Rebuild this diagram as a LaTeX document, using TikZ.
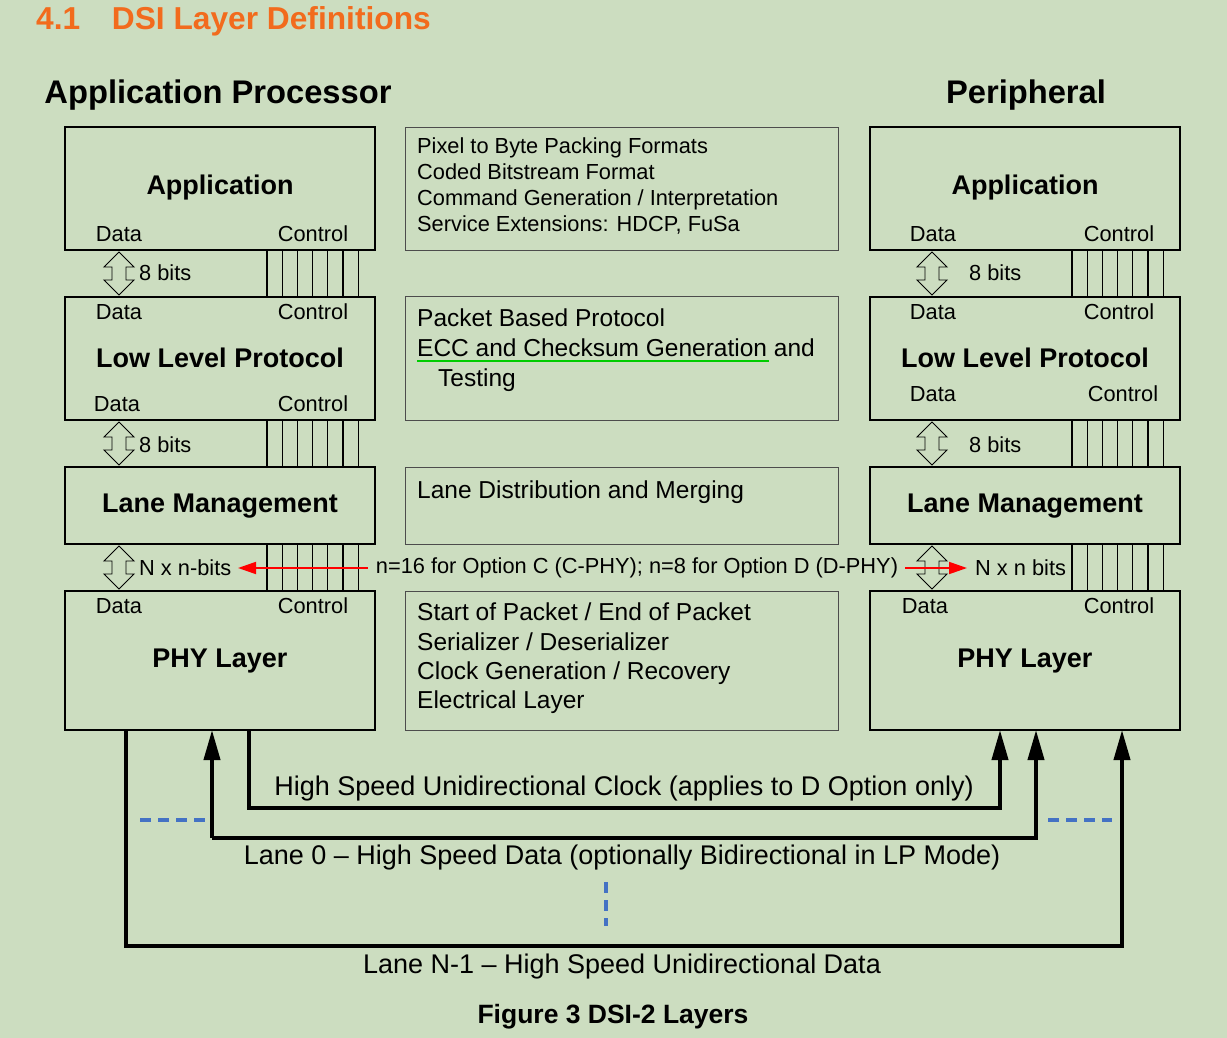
\documentclass[tikz,border=0pt]{standalone}
\usepackage{fontspec}
\setmainfont{Liberation Sans}
\usetikzlibrary{arrows.meta}
\definecolor{bg}{HTML}{CCDDC0}
\definecolor{ttl}{HTML}{F26B1D}
\definecolor{dsh}{HTML}{4472C4}
\begin{document}
\begin{tikzpicture}[x=1pt,y=-1pt,
 box/.style={draw,line width=2.2pt},
 mbox/.style={draw=black!70,line width=0.6pt},
 t/.style={inner sep=0,font=\fontsize{21.8}{26}\selectfont},
 tb/.style={inner sep=0,font=\fontsize{27}{31}\selectfont\bfseries},
 wire/.style={line width=1.3pt},
 bus/.style={line width=4pt},
 up/.style={-{Triangle[width=16pt,length=30pt]}},
 red/.style={draw=red,line width=1.8pt,-{Triangle[width=12pt,length=18pt]}},
 blue/.style={draw=dsh,line width=3.5pt,dash pattern=on 11pt off 7pt}]
\fill[bg] (0,0) rectangle (1227,1038);
\useasboundingbox (0,0) rectangle (1227,1038);
\node[anchor=west,inner sep=0,text=ttl,font=\fontsize{31.7}{34}\selectfont\bfseries] (title) at (36,21) {4.1\quad DSI Layer Definitions};
\node[inner sep=0,font=\fontsize{32.7}{36}\selectfont\bfseries] (ap) at (218,95) {Application Processor};
\node[inner sep=0,font=\fontsize{32.7}{36}\selectfont\bfseries] (pe) at (1026,95) {Peripheral};
% stacks
\foreach \s/\x in {L/65,R/870}{
 \draw[box] (\x,127) rectangle ++(310,123);
 \draw[box] (\x,297) rectangle ++(310,123);
 \draw[box] (\x,467) rectangle ++(310,77);
 \draw[box] (\x,591) rectangle ++(310,139);
 \node[tb] (app\s) at (\x+155,188) {Application};
 \node[tb] (llp\s) at (\x+155,358) {Low Level Protocol};
 \node[tb] (lm\s) at (\x+155,506) {Lane Management};
 \node[tb] (phy\s) at (\x+155,661) {PHY Layer};
 \foreach \ya/\yb in {250/297,420/467,544/591}
  \foreach \i in {0,...,6} \draw[wire] (\x+202+\i*15.2,\ya) -- (\x+202+\i*15.2,\yb);
}
\foreach \s/\x in {L/119,R/932}{
 \foreach \ya/\yb in {250/297,420/467,544/591}{
  \draw[line width=0.9pt,fill=bg] (\x,\ya+2) -- (\x+15,\ya+17) -- (\x+7,\ya+17) -- (\x+7,\yb-17) -- (\x+15,\yb-17) -- (\x,\yb-2) -- (\x-15,\yb-17) -- (\x-7,\yb-17) -- (\x-7,\ya+17) -- (\x-15,\ya+17) -- cycle;}
}
% Data/Control labels
\node[t] at (119,234) {Data}; \node[t] at (313,234) {Control};
\node[t] at (119,312) {Data}; \node[t] at (313,312) {Control};
\node[t] at (117,404) {Data}; \node[t] at (313,404) {Control};
\node[t] at (119,606) {Data}; \node[t] at (313,606) {Control};
\node[t] at (933,234) {Data}; \node[t] at (1119,234) {Control};
\node[t] at (933,312) {Data}; \node[t] at (1119,312) {Control};
\node[t] at (933,394) {Data}; \node[t] at (1123,394) {Control};
\node[t] at (925,606) {Data}; \node[t] at (1119,606) {Control};
\node[t,anchor=west] at (139,273) {8 bits};
\node[t,anchor=west] at (139,445) {8 bits};
\node[t,anchor=west] at (969,273) {8 bits};
\node[t,anchor=west] at (969,445) {8 bits};
\node[t,anchor=west] (nl) at (139,568) {N x n-bits};
\node[t,anchor=west] (nr) at (975,568) {N x n bits};
\node[t] (nopt) at (637,568) {n=16 for Option C (C-PHY); n=8 for Option D (D-PHY)};
\draw[red] (nopt.west)++(-8,0) -- (238,568);
\draw[red] (nopt.east)++(7,0) -- (967,568);
% middle boxes
\draw[mbox] (405,127) rectangle (838,250);
\draw[mbox] (405,296) rectangle (838,420);
\draw[mbox] (405,467) rectangle (838,544);
\draw[mbox] (405,591) rectangle (838,730);
\node[inner sep=0,anchor=north west,align=left,font=\fontsize{21.8}{26}\selectfont] (m1) at (417,138) {Pixel to Byte Packing Formats\\Coded Bitstream Format\\Command Generation / Interpretation\\Service Extensions: HDCP, FuSa};
\node[inner sep=0,anchor=north west,align=left,font=\fontsize{24.5}{30}\selectfont] (m2) at (417,309) {Packet Based Protocol\\ECC and Checksum Generation and\\\hspace*{21pt}Testing};
\draw[green!80!black,line width=1.8pt] (417,361) -- (769,361);
\node[inner sep=0,anchor=north west,font=\fontsize{24.5}{28}\selectfont] (m3) at (417,481) {Lane Distribution and Merging};
\node[inner sep=0,anchor=north west,align=left,font=\fontsize{24.5}{29.3}\selectfont] (m4) at (417,603) {Start of Packet / End of Packet\\Serializer / Deserializer\\Clock Generation / Recovery\\Electrical Layer};
% buses
\coordinate (c1) at (249,730); \coordinate (c2) at (1000,730);
\coordinate (d1) at (212,730); \coordinate (d2) at (1036,730);
\coordinate (e1) at (126,730); \coordinate (e2) at (1122,730);
\draw[bus,up] (c1) -- (249,808) -- (1000,808) -- (c2);
\draw[bus,up] (212,838) -- (d1);
\draw[bus,up] (212,838) -- (1036,838) -- (d2);
\draw[bus,up] (e1) -- (126,946) -- (1122,946) -- (e2);
\node[inner sep=0,font=\fontsize{27}{30}\selectfont] (lc) at (624,789) {High Speed Unidirectional Clock (applies to D Option only)};
\node[inner sep=0,font=\fontsize{27}{30}\selectfont] (l0) at (622,858) {Lane 0 -- High Speed Data (optionally Bidirectional in LP Mode)};
\node[inner sep=0,font=\fontsize{27}{30}\selectfont] (ln) at (622,967) {Lane N-1 -- High Speed Unidirectional Data};
\draw[blue] (140,820) -- (205,820);
\draw[blue] (1048,820) -- (1112,820);
\draw[blue] (606,882) -- (606,926);
\node[inner sep=0,font=\fontsize{26.5}{30}\selectfont\bfseries] (fig) at (613,1017) {Figure 3 DSI-2 Layers};
\end{tikzpicture}
\end{document}
